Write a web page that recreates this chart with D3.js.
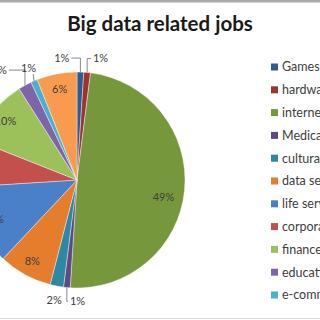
<!DOCTYPE html>
<html>
<head>
<meta charset="utf-8">
<script src="https://cdn.jsdelivr.net/npm/d3@7"></script>
<style>
  html, body { margin: 0; padding: 0; background: #fff; overflow: hidden; }
  text { font-family: Lato, "Open Sans", sans-serif; }
</style>
</head>
<body>
<div id="chart"></div>
<script>
// chart values
var categories = ["Games", "hardware", "internet", "Medical", "cultural", "data services",
                  "life services", "corporate services", "finance", "education", "e-commerce", "others"];
var shares = [1, 1, 49, 1, 2, 8, 12, 7, 10, 2, 1, 6];
var colors = ["#2f5b93", "#9c3431", "#76973c", "#5f4a80", "#2f88a3", "#e57d2c",
              "#4a80c8", "#c4504d", "#9cc05a", "#7e64a8", "#4bb0cc", "#f89b4e"];
var titleText = "Big data related jobs";
// only 11 entries fit in the legend box
var legendCount = 11;

// small slices get their label outside, moved by hand like the original
var outside = {
  "Games":      {dx: -19, leader: true},
  "hardware":   {dx: 12, leader: true},
  "Medical":    {dx: 12, leader: true},
  "cultural":   {dx: 0, leader: false},
  "education":  {dx: -19, dy: -3, leader: true},
  "e-commerce": {dx: 0, leader: true}
};
var inside = { "internet": {dx: -6, dy: 8} };

var W = 320, H = 320,
    cx = 77, cy = 180, radius = 108;

var svg = d3.select("#chart").append("svg")
    .attr("width", W)
    .attr("height", H);

// frame lines of the original image
svg.append("rect").attr("x", 0).attr("y", 0).attr("width", W).attr("height", 2.5).attr("fill", "#a8a8a8");
svg.append("line").attr("x1", 0).attr("x2", W).attr("y1", 318.5).attr("y2", 318.5)
    .attr("stroke", "#dcdcdc").attr("stroke-width", 1);

svg.append("text")
    .attr("x", 160).attr("y", 31)
    .attr("text-anchor", "middle")
    .attr("font-size", 20.5)
    .attr("font-weight", "bold")
    .attr("fill", "#1a1a1a")
    .text(titleText);

var data = categories.map(function(c, i) { return {name: c, value: shares[i], color: colors[i]}; });

var pie = d3.pie().sort(null).value(function(d) { return d.value; });
var arcs = pie(data);
var arc = d3.arc().innerRadius(0).outerRadius(radius);
var inArc = d3.arc().innerRadius(radius * 0.86).outerRadius(radius * 0.86);
var edgeArc = d3.arc().innerRadius(radius).outerRadius(radius);
var outArc = d3.arc().innerRadius(radius + 14).outerRadius(radius + 14);

var g = svg.append("g").attr("transform", "translate(" + cx + "," + cy + ")");

g.selectAll("path.slice")
  .data(arcs)
  .enter()
  .append("path")
    .attr("class", "slice")
    .attr("d", arc)
    .attr("fill", function(d) { return d.data.color; })
    .attr("stroke", "#ffffff")
    .attr("stroke-width", 0.4);

var labels = g.append("g");
arcs.forEach(function(d) {
  var o = outside[d.data.name];
  var txt = d.data.value + "%";
  if (o) {
    var p = outArc.centroid(d);
    var lx = p[0] + o.dx, ly = p[1] + (o.dy || 0);
    var t = labels.append("text")
        .attr("x", lx).attr("y", ly)
        .attr("dy", "0.35em")
        .attr("text-anchor", "middle")
        .attr("font-size", 11)
        .attr("fill", "#404040")
        .text(txt);
    if (o.leader) {
      var e = edgeArc.centroid(d);
      var half = t.node().getComputedTextLength() / 2 + 2;
      var pts;
      if (Math.abs(lx - e[0]) > half) {
        var side = lx < e[0] ? lx + half : lx - half;
        pts = [[e[0], e[1]], [e[0], ly], [side, ly]];
      } else {
        var yEnd = ly + (e[1] > ly ? 6 : -6);
        pts = [[e[0], e[1]], [e[0] - 1, yEnd]];
      }
      labels.append("path")
          .attr("d", d3.line()(pts))
          .attr("fill", "none")
          .attr("stroke", "#8a8a8a")
          .attr("stroke-width", 1);
    }
  } else {
    var c = inArc.centroid(d);
    var n = inside[d.data.name] || {dx: 0, dy: 0};
    labels.append("text")
        .attr("x", c[0] + n.dx).attr("y", c[1] + n.dy)
        .attr("dy", "0.35em")
        .attr("text-anchor", "middle")
        .attr("font-size", 11)
        .attr("fill", "#404040")
        .text(txt);
  }
});

// legend
var legendY = d3.scalePoint()
    .domain(categories.slice(0, legendCount))
    .range([67, 295]);

var legend = svg.append("g")
  .selectAll("g")
  .data(data.slice(0, legendCount))
  .enter()
  .append("g")
    .attr("transform", function(d) { return "translate(271," + legendY(d.name) + ")"; });

legend.append("rect")
    .attr("x", 0).attr("y", -3.5)
    .attr("width", 7).attr("height", 7)
    .attr("fill", function(d) { return d.color; });

legend.append("text")
    .attr("x", 11).attr("y", 0)
    .attr("dy", "0.35em")
    .attr("font-size", 12.5)
    .attr("fill", "#404040")
    .text(function(d) { return d.name; });
</script>
</body>
</html>
